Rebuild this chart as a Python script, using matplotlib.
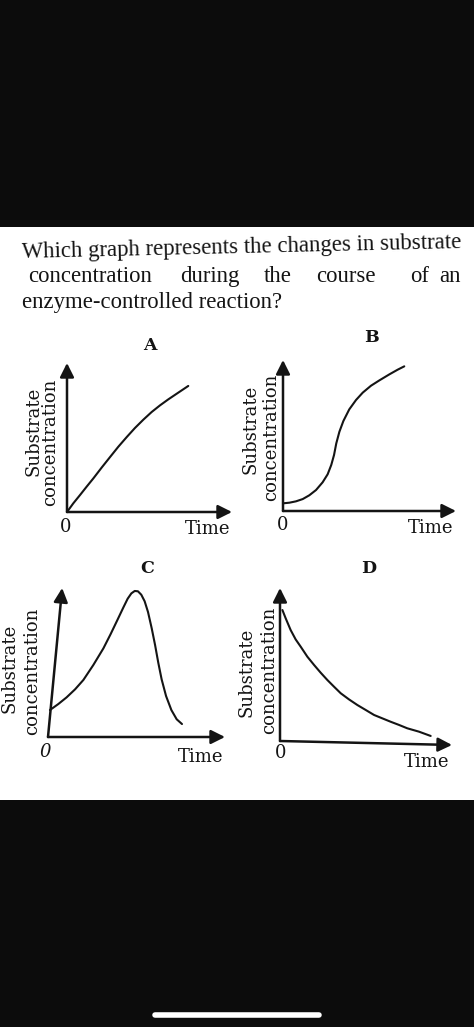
import matplotlib
matplotlib.use('Agg')
import matplotlib.pyplot as plt
from matplotlib.patches import Rectangle
from matplotlib.lines import Line2D

# question text
question_line1 = 'Which graph represents the changes in substrate'
question_line2 = ['concentration', 'during', 'the', 'course', 'of', 'an']
question_line3 = 'enzyme-controlled reaction?'

panel_names = ['A', 'B', 'C', 'D']
y_label = ['Substrate', 'concentration']
x_label = 'Time'

# curves (time and concentration as fractions of the axes)
a_time = [0, 0.038, 0.079, 0.119, 0.160, 0.210, 0.261, 0.311, 0.362, 0.412, 0.463,
          0.513, 0.564, 0.614, 0.665, 0.735]
a_conc = [0, 0.058, 0.114, 0.170, 0.226, 0.298, 0.369, 0.438, 0.503, 0.564, 0.620,
          0.671, 0.716, 0.756, 0.794, 0.846]

b_time = [0.002, 0.037, 0.075, 0.114, 0.152, 0.191, 0.229, 0.258, 0.279, 0.295, 0.308,
          0.326, 0.349, 0.383, 0.422, 0.461, 0.509, 0.557, 0.615, 0.663, 0.701]
b_conc = [0.051, 0.055, 0.064, 0.079, 0.104, 0.139, 0.190, 0.243, 0.305, 0.371, 0.448,
          0.525, 0.596, 0.673, 0.735, 0.784, 0.830, 0.865, 0.905, 0.936, 0.958]

c_time = [0.011, 0.058, 0.105, 0.153, 0.200, 0.256, 0.313, 0.354, 0.394, 0.426, 0.450,
          0.471, 0.490, 0.508, 0.527, 0.546, 0.565, 0.586, 0.605, 0.623, 0.642, 0.667,
          0.697, 0.727, 0.757]
c_conc = [0.181, 0.221, 0.266, 0.320, 0.383, 0.483, 0.595, 0.691, 0.790, 0.870, 0.928,
          0.964, 0.980, 0.978, 0.955, 0.911, 0.839, 0.729, 0.617, 0.499, 0.387, 0.275,
          0.181, 0.119, 0.087]

d_time = [0.014, 0.033, 0.062, 0.091, 0.120, 0.159, 0.198, 0.236, 0.275, 0.314, 0.353,
          0.401, 0.450, 0.498, 0.547, 0.595, 0.643, 0.692, 0.740, 0.808, 0.876]
d_conc = [0.856, 0.802, 0.725, 0.664, 0.617, 0.551, 0.497, 0.447, 0.399, 0.355, 0.312,
          0.272, 0.235, 0.203, 0.170, 0.148, 0.126, 0.105, 0.083, 0.061, 0.033]

W, H = 474, 1027
ink = '#141414'

fig = plt.figure(figsize=(W/100, H/100), dpi=100, facecolor='#0c0c0c')
fig.add_artist(Rectangle((0, 1-800/H), 1, (800-227)/H, transform=fig.transFigure,
                         facecolor='white', edgecolor='none', zorder=0))
fig.add_artist(Line2D([155/W, 319/W], [1-1015/H, 1-1015/H], transform=fig.transFigure,
                      lw=4, color='white', solid_capstyle='round'))

qfont = dict(family='Liberation Serif', size=16.4, color=ink)
fig.text(22/W, 1-258/H, question_line1, ha='left', va='baseline', rotation=1.3,
         rotation_mode='anchor', **qfont)
for word, cx in zip(question_line2, [90, 210, 277.5, 346, 420, 450]):
  fig.text(cx/W, 1-282/H, word, ha='center', va='baseline', **qfont)
fig.text(22/W, 1-308/H, question_line3, ha='left', va='baseline', **qfont)

# axes boxes in pixels: left, bottom, width, height (origin corner to arrow tips)
boxes = [(67, 512, 165, 149), (283, 511, 173, 151), (48, 737, 177, 149), (280, 741, 172, 153)]
curves = [(a_time, a_conc), (b_time, b_conc), (c_time, c_conc), (d_time, d_conc)]
# per panel: arrow tips, label x (Substrate, concentration), label y, "0", "Time" and title spots
layout = [
  dict(ytip=0.0, xtip=0.0, lx=(-0.206, -0.103), ly=(0.54, 0.47), zero=(-0.006, -0.10), time=(0.855, -0.114), title=(0.503, 1.12), italic=False),
  dict(ytip=0.0, xtip=0.0, lx=(-0.19, -0.066), ly=(0.54, 0.49), zero=(0.0, -0.093), time=(0.855, -0.113), title=(0.509, 1.146), italic=False),
  dict(ytip=0.08, xtip=0.0, lx=(-0.215, -0.09), ly=(0.46, 0.44), zero=(-0.017, -0.10), time=(0.86, -0.134), title=(0.56, 1.134), italic=True),
  dict(ytip=0.0, xtip=-0.026, lx=(-0.195, -0.064), ly=(0.45, 0.46), zero=(0.006, -0.078), time=(0.855, -0.137), title=(0.517, 1.13), italic=False),
]

arrow = dict(arrowstyle='-|>,head_length=0.6,head_width=0.3', mutation_scale=14,
             lw=1.8, color=ink, shrinkA=0, shrinkB=0)
lfont = dict(family='DejaVu Serif', size=13, color=ink)

for name, box, (t, c), lay in zip(panel_names, boxes, curves, layout):
  l, b, w, h = box
  ax = fig.add_axes([l/W, 1-b/H, w/W, h/H])
  ax.set_xlim(0, 1)
  ax.set_ylim(0, 1)
  ax.axis('off')
  ax.plot(t, c, color=ink, lw=1.5, solid_joinstyle='round', solid_capstyle='round', clip_on=False)
  ax.annotate('', xy=(1, lay['xtip']), xytext=(0, 0), xycoords='axes fraction', arrowprops=arrow)
  ax.annotate('', xy=(lay['ytip'], 1), xytext=(0, 0), xycoords='axes fraction', arrowprops=arrow)
  for txt, x, y in zip(y_label, lay['lx'], lay['ly']):
    ax.text(x, y, txt, transform=ax.transAxes, rotation=90, ha='center', va='center', **lfont)
  ax.text(*lay['zero'], '0', transform=ax.transAxes, ha='center', va='center',
          style='italic' if lay['italic'] else 'normal', **lfont)
  ax.text(*lay['time'], x_label, transform=ax.transAxes, ha='center', va='center', **lfont)
  ax.text(*lay['title'], name, transform=ax.transAxes, ha='center', va='center',
          fontweight='bold', family='DejaVu Serif', size=12.5, color=ink)

fig.savefig('out.png', dpi=100, facecolor=fig.get_facecolor())
